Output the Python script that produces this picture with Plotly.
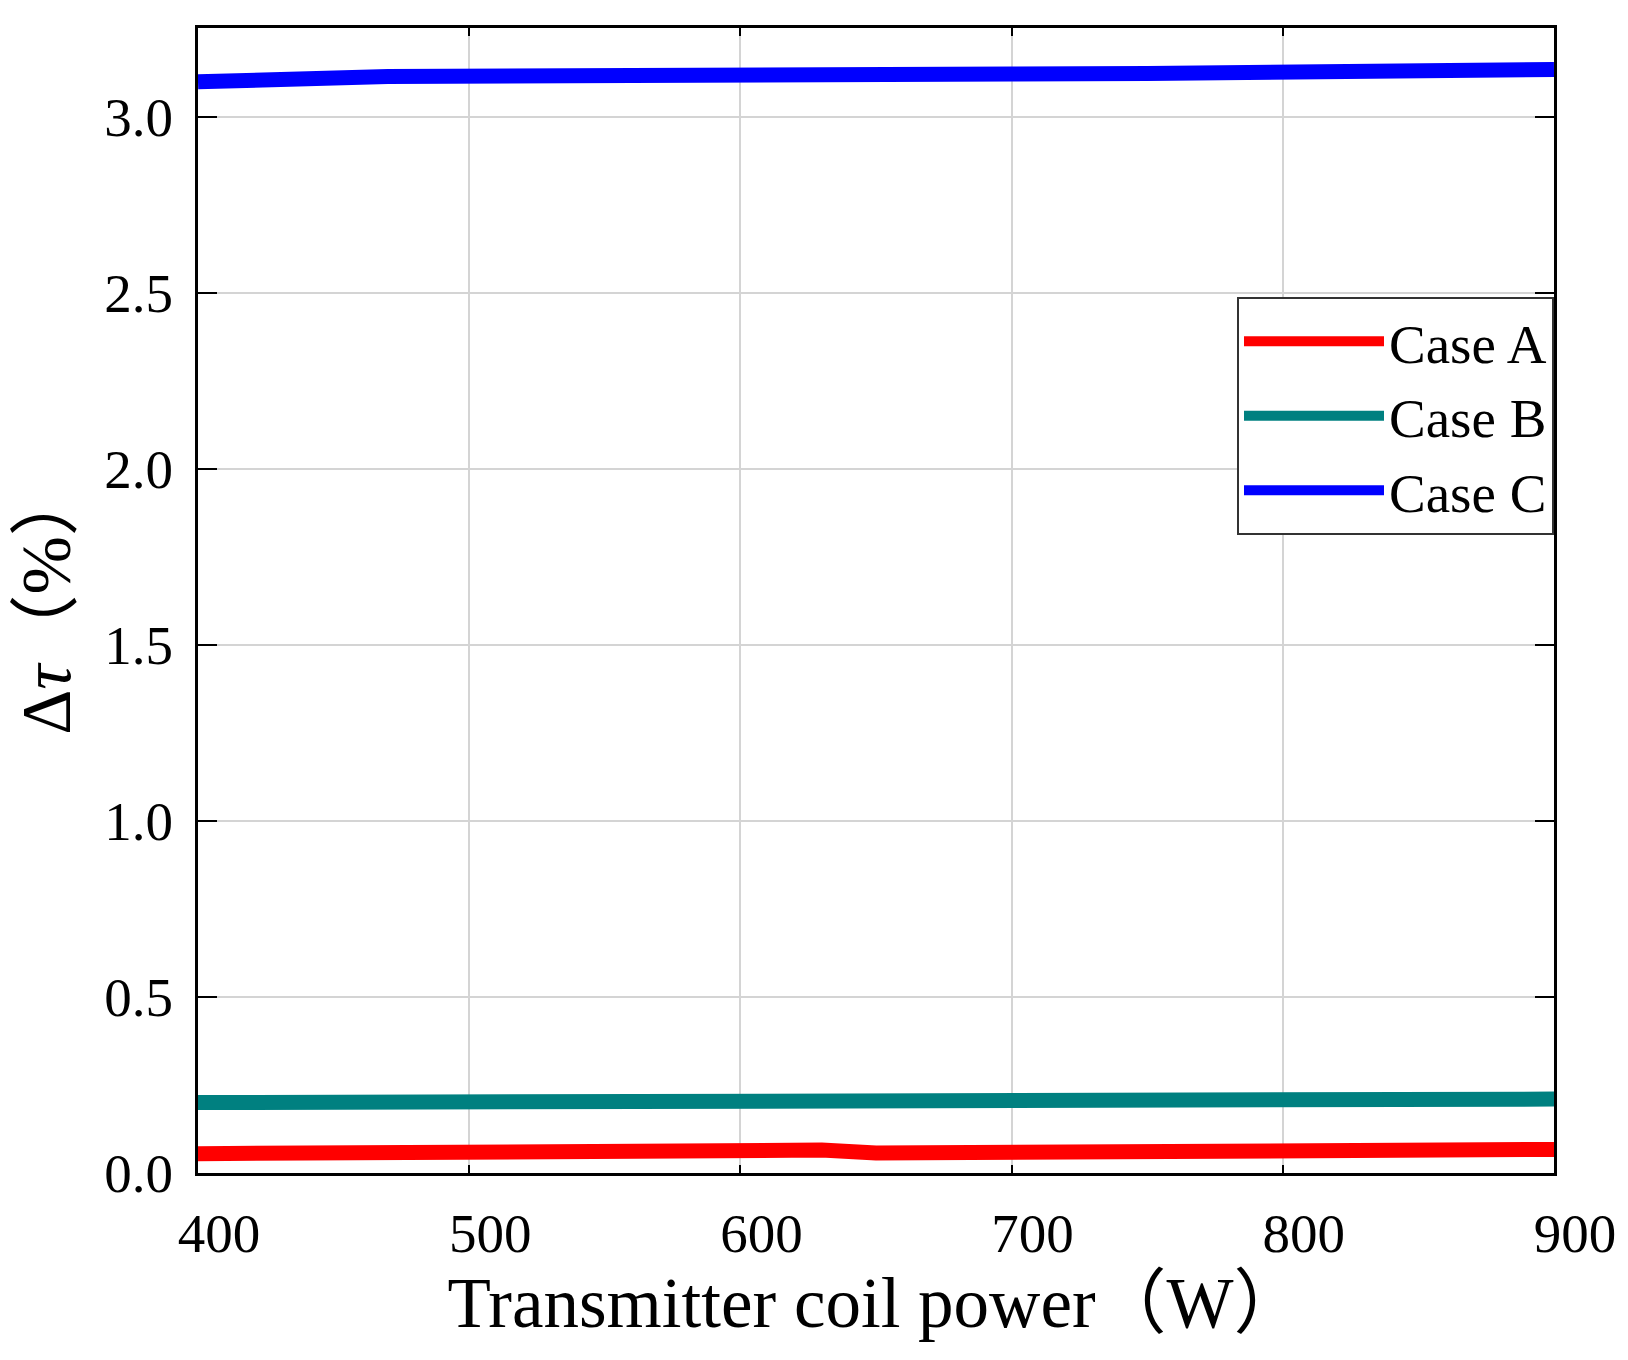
import plotly.graph_objects as go

power_a = [400, 450, 500, 560, 580, 630, 650, 700, 750, 800, 850, 880, 900]
case_a = [0.055, 0.057, 0.058, 0.058, 0.065, 0.065, 0.057, 0.060, 0.062, 0.062, 0.062, 0.067, 0.067]

power_b = [400, 425, 435, 500, 570, 590, 640, 650, 700, 750, 800, 900]
case_b = [0.200, 0.200, 0.205, 0.205, 0.205, 0.210, 0.210, 0.205, 0.205, 0.210, 0.210, 0.210]

power_c = [400, 450, 470, 560, 600, 640, 650, 700, 750, 800, 850, 860, 900]
case_c = [3.100, 3.110, 3.115, 3.118, 3.122, 3.122, 3.118, 3.122, 3.124, 3.128, 3.128, 3.135, 3.135]

names = ["Case A", "Case B", "Case C"]
colors = ["#ff0000", "#008080", "#0000ff"]

x_ticks = [400, 500, 600, 700, 800, 900]
y_ticks = [0.0, 0.5, 1.0, 1.5, 2.0, 2.5, 3.0]
y_tick_text = ["0.0", "0.5", "1.0", "1.5", "2.0", "2.5", "3.0"]

serif = "Liberation Serif, Times New Roman, Noto Sans CJK SC, serif"

fig = go.Figure()
for xs, ys, n, c in zip([power_a, power_b, power_c], [case_a, case_b, case_c], names, colors):
    fig.add_trace(go.Scatter(x=xs, y=ys, mode="lines", name=n,
                             line=dict(color=c, width=15)))

fig.update_layout(
    width=1628, height=1360,
    margin=dict(l=190, r=82, t=20, b=195, autoexpand=False),
    paper_bgcolor="white", plot_bgcolor="white",
    font=dict(family=serif, color="black", size=55),
    showlegend=True,
    legend=dict(
        x=1.0, xanchor="right", y=0.765, yanchor="top",
        bgcolor="white", bordercolor="#333333", borderwidth=2,
        font=dict(family=serif, size=55, color="black"),
        itemwidth=140, tracegroupgap=0,
    ),
)

fig.update_xaxes(
    range=[400, 900], tickvals=x_ticks, ticktext=[str(v) for v in x_ticks],
    showline=True, linecolor="black", linewidth=3, mirror="ticks",
    ticks="inside", ticklen=8, tickwidth=2, tickcolor="black",
    showgrid=True, gridcolor="#d4d4d4", gridwidth=1.5,
    zeroline=False, automargin=False,
    tickfont=dict(family=serif, size=55),
    ticklabelstandoff=10, ticklabelshift=21,
    title=dict(text="Transmitter coil power（W）",
               font=dict(family=serif, size=71), standoff=5),
)
fig.update_yaxes(
    range=[0, 3.253], tickvals=y_ticks, ticktext=y_tick_text,
    showline=True, linecolor="black", linewidth=3, mirror="ticks",
    ticks="inside", ticklen=19, tickwidth=2, tickcolor="black",
    showgrid=True, gridcolor="#d4d4d4", gridwidth=1.5,
    zeroline=False, automargin=False,
    tickfont=dict(family=serif, size=55),
    ticklabelstandoff=11,
    title=dict(text="Δ<i>τ</i>（%）",
               font=dict(family=serif, size=70), standoff=22),
)

fig.write_html("out.html")
